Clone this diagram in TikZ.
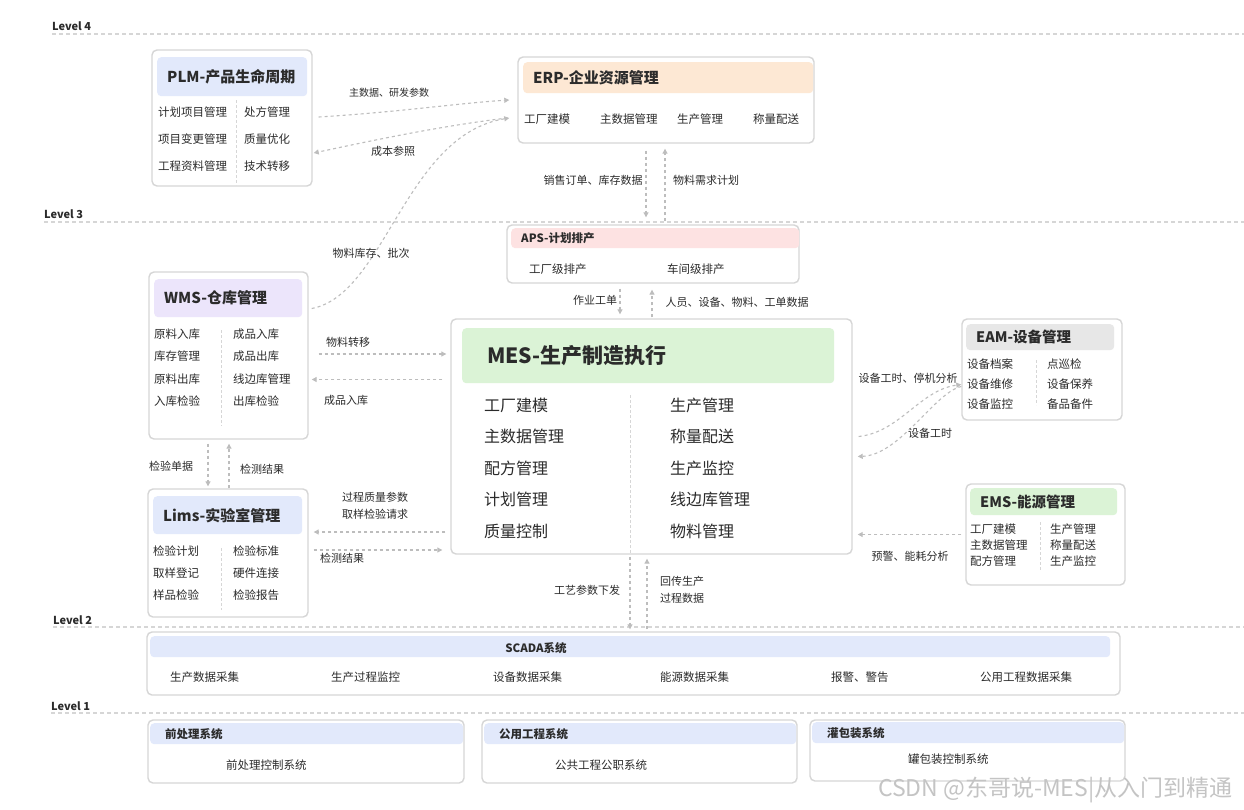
\documentclass[tikz,border=0pt]{standalone}
\usepackage{fontspec}
\setmainfont{Noto Sans CJK SC}
\usetikzlibrary{arrows.meta,calc}
\definecolor{FrameGrey}{HTML}{D6D6D6}
\definecolor{LinkGrey}{HTML}{BDBDBD}
\definecolor{InkDark}{HTML}{2B2B2B}
\definecolor{HeadBlue}{HTML}{E2E9FB}
\definecolor{HeadOrange}{HTML}{FDE8D4}
\definecolor{HeadPink}{HTML}{FDE2E2}
\definecolor{HeadLilac}{HTML}{ECE5FB}
\definecolor{HeadGreen}{HTML}{DBF3D6}
\definecolor{HeadGrey}{HTML}{E7E7E7}
\definecolor{MarkGrey}{HTML}{C4C4C4}

\begin{document}
\begin{tikzpicture}[x=1pt,y=-1pt,>={Triangle[length=5pt,width=5pt]},
  sysbox/.style={draw=FrameGrey,line width=1.4pt,rounded corners=5pt,fill=white},
  headbox/.style={rounded corners=4pt,anchor=north west,inner xsep=10pt,inner ysep=0pt,
    align=left,text=InkDark,font=\bfseries\fontsize{15}{18}\selectfont},
  entry/.style={anchor=west,inner sep=0pt,text=InkDark,font=\fontsize{11.5}{14}\selectfont},
  bigentry/.style={entry,font=\fontsize{16}{19}\selectfont},
  flowtext/.style={inner sep=0pt,text=InkDark,font=\fontsize{11}{17}\selectfont,align=center},
  link/.style={->,draw=LinkGrey,line width=1.1pt,dash pattern=on 3pt off 3pt},
  divider/.style={draw=FrameGrey,line width=1pt,dash pattern=on 2.5pt off 2.5pt},
  levelline/.style={draw=FrameGrey,line width=1.2pt,dash pattern=on 4pt off 3pt},
  levellabel/.style={anchor=west,inner sep=0pt,text=InkDark,font=\bfseries\fontsize{11}{13}\selectfont}]
  \useasboundingbox[fill=white] (0,0) rectangle (1244,809);

  % levels
  \node[levellabel] (lv4) at (52,26) {Level 4};
  \node[levellabel] (lv3) at (44,214) {Level 3};
  \node[levellabel] (lv2) at (53,620) {Level 2};
  \node[levellabel] (lv1) at (51,706) {Level 1};
  \draw[levelline] (52,34) -- (1244,34);
  \draw[levelline] (44,222) -- (1244,222);
  \draw[levelline] (53,627) -- (1244,627);
  \draw[levelline] (51,713) -- (1244,713);

  % PLM
  \node[sysbox,minimum width=160pt,minimum height=136pt] (plm) at (232,118) {};
  \node[headbox,fill=HeadBlue,text width=130pt,minimum height=39pt] (plmhead) at (157,57) {PLM-产品生命周期};
  \foreach \t [count=\i] in {计划项目管理,项目变更管理,工程资料管理}
    \node[entry] (plmL\i) at (158,85+27*\i) {\t};
  \foreach \t [count=\i] in {处方管理,质量优化,技术转移}
    \node[entry] (plmR\i) at (244,85+27*\i) {\t};
  \draw[divider] (236,100) -- (236,185);

  % ERP
  \node[sysbox,minimum width=296pt,minimum height=86pt] (erp) at (666,100) {};
  \node[headbox,fill=HeadOrange,text width=270pt,minimum height=31pt] (erphead) at (523,62) {ERP-企业资源管理};
  \node[entry] (erp1) at (524,119) {工厂建模};
  \node[entry] (erp2) at (600,119) {主数据管理};
  \node[entry] (erp3) at (677,119) {生产管理};
  \node[entry] (erp4) at (753,119) {称量配送};

  % APS
  \node[sysbox,minimum width=292pt,minimum height=58pt] (aps) at (653,254) {};
  \node[headbox,fill=HeadPink,text width=268pt,minimum height=20pt,
        font=\bfseries\fontsize{11.5}{13}\selectfont] (apshead) at (511,228) {APS-计划排产};
  \node[entry] (aps1) at (529,269) {工厂级排产};
  \node[entry] (aps2) at (667,269) {车间级排产};

  % WMS
  \node[sysbox,minimum width=159pt,minimum height=167pt] (wms) at (228.5,355.5) {};
  \node[headbox,fill=HeadLilac,text width=128pt,minimum height=38pt] (wmshead) at (154,279) {WMS-仓库管理};
  \foreach \t [count=\i] in {原料入库,库存管理,原料出库,入库检验}
    \node[entry] (wmsL\i) at (154,311.5+22.5*\i) {\t};
  \foreach \t [count=\i] in {成品入库,成品出库,线边库管理,出库检验}
    \node[entry] (wmsR\i) at (233,311.5+22.5*\i) {\t};
  \draw[divider] (221,330) -- (221,426);

  % MES
  \node[sysbox,minimum width=401pt,minimum height=235pt] (mes) at (651.5,436.5) {};
  \node[headbox,fill=HeadGreen,text width=322pt,minimum height=55pt,inner xsep=25pt,
        font=\bfseries\fontsize{21}{24}\selectfont] (meshead) at (462,328) {MES-生产制造执行};
  \foreach \t [count=\i] in {工厂建模,主数据管理,配方管理,计划管理,质量控制}
    \node[bigentry] (mesL\i) at (484,373.5+31.5*\i) {\t};
  \foreach \t [count=\i] in {生产管理,称量配送,生产监控,线边库管理,物料管理}
    \node[bigentry] (mesR\i) at (670,373.5+31.5*\i) {\t};
  \draw[divider] (630,395) -- (630,553);

  % EAM
  \node[sysbox,minimum width=160pt,minimum height=101pt] (eam) at (1042,369.5) {};
  \node[headbox,fill=HeadGrey,text width=128pt,minimum height=26pt,
        font=\bfseries\fontsize{14.5}{17}\selectfont] (eamhead) at (966,324) {EAM-设备管理};
  \foreach \t [count=\i] in {设备档案,设备维修,设备监控}
    \node[entry] (eamL\i) at (967,344+20*\i) {\t};
  \foreach \t [count=\i] in {点巡检,设备保养,备品备件}
    \node[entry] (eamR\i) at (1047,344+20*\i) {\t};
  \draw[divider] (1036,360) -- (1036,405);

  % EMS
  \node[sysbox,minimum width=159pt,minimum height=101pt] (ems) at (1045.5,534.5) {};
  \node[headbox,fill=HeadGreen,text width=127pt,minimum height=27pt,
        font=\bfseries\fontsize{14.5}{17}\selectfont] (emshead) at (970,488) {EMS-能源管理};
  \foreach \t [count=\i] in {工厂建模,主数据管理,配方管理}
    \node[entry] (emsL\i) at (970,513+16*\i) {\t};
  \foreach \t [count=\i] in {生产管理,称量配送,生产监控}
    \node[entry] (emsR\i) at (1050,513+16*\i) {\t};
  \draw[divider] (1040,522) -- (1040,570);

  % Lims
  \node[sysbox,minimum width=160pt,minimum height=128pt] (lims) at (228,553) {};
  \node[headbox,fill=HeadBlue,text width=129pt,minimum height=38pt] (limshead) at (153,496) {Lims-实验室管理};
  \foreach \t [count=\i] in {检验计划,取样登记,样品检验}
    \node[entry] (limsL\i) at (153,529+22*\i) {\t};
  \foreach \t [count=\i] in {检验标准,硬件连接,检验报告}
    \node[entry] (limsR\i) at (233,529+22*\i) {\t};
  \draw[divider] (221,548) -- (221,610);

  % SCADA
  \node[sysbox,minimum width=973pt,minimum height=63pt] (scada) at (633.5,663.5) {};
  \node[headbox,fill=HeadBlue,text width=940pt,minimum height=21pt] (scadahead) at (150,636) {};
  \node[entry,font=\bfseries\fontsize{11.5}{13}\selectfont,anchor=center] (scadatitle) at (536,648) {SCADA系统};
  \node[entry] (scada1) at (170,677) {生产数据采集};
  \node[entry] (scada2) at (331,677) {生产过程监控};
  \node[entry] (scada3) at (493,677) {设备数据采集};
  \node[entry] (scada4) at (660,677) {能源数据采集};
  \node[entry] (scada5) at (831,677) {报警、警告};
  \node[entry] (scada6) at (980,677) {公用工程数据采集};

  % level 1 systems
  \node[sysbox,minimum width=316pt,minimum height=63pt] (pre) at (306,751.5) {};
  \node[headbox,fill=HeadBlue,text width=283pt,minimum height=21pt,inner xsep=15pt,
        font=\bfseries\fontsize{11.5}{13}\selectfont] (prehead) at (150,723) {前处理系统};
  \node[entry] (pre1) at (226,765) {前处理控制系统};
  \node[sysbox,minimum width=315pt,minimum height=63pt] (util) at (639.5,751.5) {};
  \node[headbox,fill=HeadBlue,text width=282pt,minimum height=21pt,inner xsep=15pt,
        font=\bfseries\fontsize{11.5}{13}\selectfont] (utilhead) at (484,723) {公用工程系统};
  \node[entry] (util1) at (555,765) {公共工程公职系统};
  \node[sysbox,minimum width=315pt,minimum height=61pt] (pack) at (967.5,750.5) {};
  \node[headbox,fill=HeadBlue,text width=282pt,minimum height=21pt,inner xsep=15pt,
        font=\bfseries\fontsize{11.5}{13}\selectfont] (packhead) at (812,722) {灌包装系统};
  \node[entry] (pack1) at (908,759) {罐包装控制系统};

  % PLM / WMS <-> ERP
  \draw[link] ($(plm.east)+(6,-1)$) .. controls (400,112) and (460,103) .. ($(erp.west)+(-8,0)$);
  \node[flowtext,font=\fontsize{10}{12}\selectfont] (lbPlmErp) at (389,93) {主数据、研发参数};
  \draw[link] ($(erp.west)+(-10,18)$) .. controls (440,126) and (370,141) .. ($(plm.east)+(1,35)$);
  \node[flowtext] (lbErpPlm) at (393,151) {成本参照};
  \draw[link] ($(wms.east)+(3,-47)$) .. controls (385,295) and (405,135) .. ($(erp.west)+(-8,18)$);
  \node[flowtext] (lbWmsErp) at (371,253) {物料库存、批次};

  % ERP <-> APS
  \draw[link] ($(erp.south)+(-20,7)$) -- ($(aps.north)+(-7,-7)$);
  \draw[link] ($(aps.north)+(12,-3)$) -- ($(erp.south)+(-1,5)$);
  \node[flowtext] (lbErpAps) at (593,180) {销售订单、库存数据};
  \node[flowtext] (lbApsErp) at (706,180) {物料需求计划};

  % APS <-> MES
  \draw[link] ($(aps.south)+(-33,5)$) -- ($(mes.north)+(-31.5,-4)$);
  \draw[link] ($(mes.north)+(0.5,-1)$) -- ($(aps.south)+(-1,6)$);
  \node[flowtext] (lbApsMes) at (595,300) {作业工单};
  \node[flowtext] (lbMesAps) at (737,302) {人员、设备、物料、工单数据};

  % WMS <-> MES
  \draw[link] ($(wms.east)+(10,-1.5)$) -- ($(mes.west)+(-4,-82.5)$);
  \node[flowtext] (lbWmsMes) at (348,342) {物料转移};
  \draw[link] ($(mes.west)+(-8,-57)$) -- ($(wms.east)+(3,24)$);
  \node[flowtext] (lbMesWms) at (346,400) {成品入库};

  % WMS <-> Lims
  \draw[link] ($(wms.south)+(-20.5,4)$) -- ($(lims.north)+(-20,-2)$);
  \draw[link] ($(lims.north)+(1,0)$) -- ($(wms.south)+(0.5,4)$);
  \node[flowtext] (lbWmsLims) at (171,466) {检验单据};
  \node[flowtext] (lbLimsWms) at (262,469) {检测结果};

  % MES <-> Lims
  \draw[link] ($(mes.west)+(-5,95.5)$) -- ($(lims.east)+(5,-21)$);
  \node[flowtext] (lbMesLims) at (375,505.5) {过程质量参数\\取样检验请求};
  \draw[link] ($(lims.east)+(5,-3)$) -- ($(mes.west)+(-8,113.5)$);
  \node[flowtext] (lbLimsMes) at (342,558) {检测结果};

  % MES <-> EAM
  \draw[link] ($(mes.east)+(6,0)$) .. controls (900,432) and (920,390) .. ($(eam.west)+(0,15)$);
  \node[flowtext] (lbMesEam) at (908,378) {设备工时、停机分析};
  \draw[link] ($(eam.west)+(0,17)$) .. controls (935,392) and (900,455) .. ($(mes.east)+(5,20)$);
  \node[flowtext] (lbEamMes) at (930,433) {设备工时};

  % EMS -> MES
  \draw[link] ($(ems.west)+(-4,0)$) -- ($(mes.east)+(5,98)$);
  \node[flowtext] (lbEmsMes) at (910,556) {预警、能耗分析};

  % MES <-> SCADA
  \draw[link] ($(mes.south)+(-21.5,2)$) -- ($(scada.north)+(-3.5,-2)$);
  \draw[link] ($(scada.north)+(13.5,-2)$) -- ($(mes.south)+(-4.5,4)$);
  \node[flowtext] (lbMesScada) at (587,590) {工艺参数下发};
  \node[flowtext,anchor=west,align=left] (lbScadaMes) at (660,590) {回传生产\\过程数据};

  \node[inner sep=0pt,anchor=west,text=MarkGrey,font=\fontsize{23}{26}\selectfont] (mark) at (878,790) {CSDN @东哥说-MES|从入门到精通};
\end{tikzpicture}
\end{document}
